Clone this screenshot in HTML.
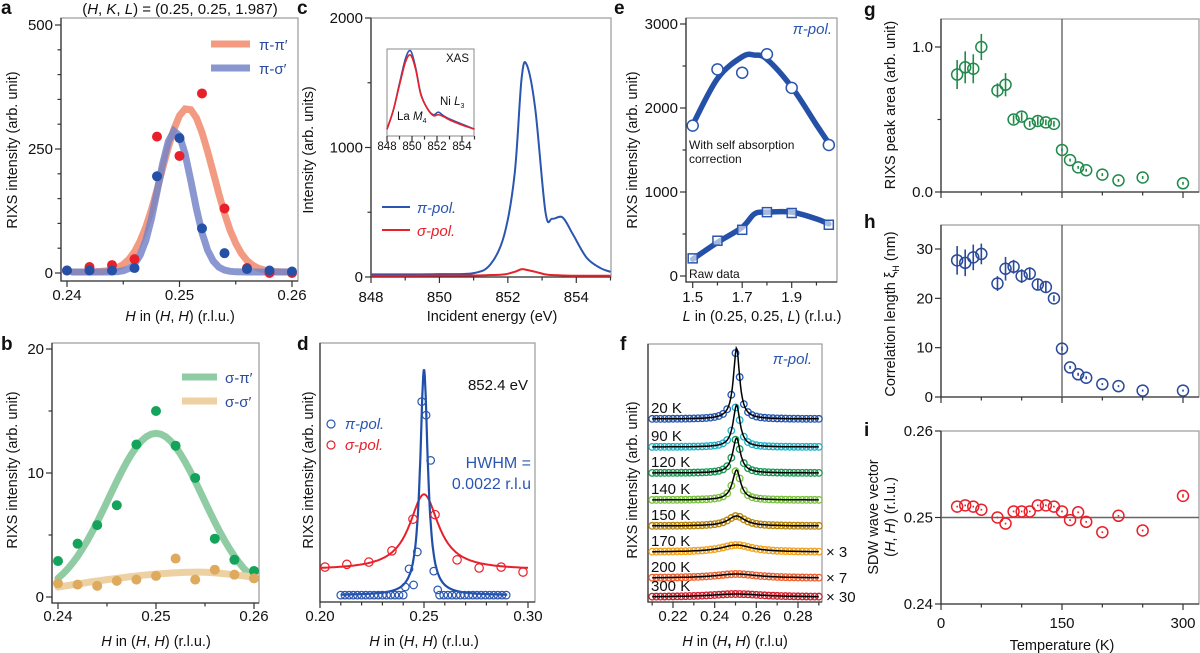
<!DOCTYPE html>
<html><head><meta charset="utf-8"><style>
body{margin:0;background:#fff}
svg{display:block;font-family:"Liberation Sans",sans-serif}
</style></head><body>
<svg id="fig" width="1200" height="653" viewBox="0 0 1200 653"></svg>
<script>
// ---------- data ----------
const aH=[0.240,0.242,0.244,0.246,0.248,0.250,0.252,0.254,0.256,0.258,0.260];
const aPiPi=[5,12,16,28,275,236,362,130,10,0,0];
const aPiSig=[5,5,5,10,195,272,90,40,8,5,3];
const aFitPiPi=[330,0.2507,0.0023];
const aFitPiSig=[285,0.2496,0.0015];
const bH=[0.240,0.242,0.244,0.246,0.248,0.250,0.252,0.254,0.256,0.258,0.260];
const bSigPi=[2.9,4.3,5.8,7.4,12.3,15,12.2,9.6,4.7,3,2.1];
const bSigSig=[1.1,1.0,0.9,1.3,1.4,1.7,3.1,1.4,2.2,1.8,1.5];
const bFitSigPi=[13.2,0.250,0.0048];
const bFitSigSigX=[0.240,0.245,0.250,0.255,0.260];
const bFitSigSigY=[0.8,1.4,1.85,2.0,1.6];
const cE=[848,849,850,851,851.5,851.9,852.2,852.4,852.55,852.8,853.1,853.3,853.6,853.9,854.3,854.7,855];
const cPi=[20,20,22,30,100,330,800,1530,1640,1300,500,450,460,330,150,70,40];
const cSig=[10,10,12,12,15,20,40,60,55,40,20,15,12,10,10,10,10];
const xasE=[848,848.5,849,849.5,849.9,850.3,850.7,851.2,851.7,852.1,852.5,853,854,855];
const xasPi=[0.08,0.3,0.62,0.92,1.0,0.8,0.5,0.33,0.25,0.28,0.24,0.2,0.14,0.08];
const xasSig=[0.08,0.3,0.6,0.88,0.95,0.78,0.49,0.33,0.24,0.25,0.23,0.19,0.13,0.08];
const dPiH=[0.2410,0.2428,0.2450,0.2468,0.2489,0.2510,0.2532,0.2547,0.2566];
const dPiI=[0.04,0.12,0.049,0.195,0.86,0.80,0.60,0.11,0.027];
const dSigH=[0.2024,0.2129,0.2235,0.2346,0.2447,0.2553,0.2659,0.2765,0.2871,0.2976];
const dSigI=[0.128,0.14,0.15,0.2,0.34,0.36,0.16,0.124,0.128,0.106];
const dFitPi=[1.0,0.250,0.0022,0.003];
const dFitSig=[0.335,0.250,0.0085,0.115];
const eL=[1.5,1.6,1.7,1.8,1.9,2.05];
const eCorr=[1790,2460,2420,2640,2240,1560];
const eRaw=[210,420,550,760,750,610];
const eFitL=[1.5,1.6,1.7,1.75,1.8,1.9,2.0,2.05];
const eFitCorr=[1800,2350,2610,2630,2580,2250,1800,1580];
const eFitRaw=[200,400,580,740,760,760,680,620];
const fTemps=['20 K','90 K','120 K','140 K','150 K','170 K','200 K','300 K'];
const fBase=[419,447,473,500,526,552,578,597];
const fHeight=[71,42,35,30,10,7,4,3];
const fHwhm=[0.0018,0.0020,0.0022,0.0024,0.005,0.009,0.012,0.015];
const fColors=['#2456b0','#1fb3c6','#1b9a55','#7cc242','#b8860b','#f2a41e','#ee6232','#d2202e'];
const fMult=['','','','','','× 3','× 7','× 30'];
const T=[20,30,40,50,70,80,90,100,110,120,130,140,150,160,170,180,200,220,250,300];
const gArea=[0.81,0.86,0.85,1.0,0.7,0.74,0.5,0.52,0.47,0.49,0.48,0.47,0.29,0.22,0.17,0.15,0.12,0.08,0.10,0.06];
const gErr=[0.1,0.11,0.1,0.09,0.05,0.08,0.03,0.03,0.02,0.03,0.02,0.02,0.01,0.01,0.01,0.01,0.01,0.01,0.01,0.01];
const hXi=[27.7,27.2,28.3,29,23,26,26.4,24.5,25,22.8,22.3,20,9.8,6,4.6,3.9,2.6,2.2,1.3,1.3];
const hErr=[2.9,2.7,2.6,2.1,1.5,2.4,1.4,1.4,1.3,1.2,1.1,0.6,0.4,0.3,0.3,0.3,0.2,0.2,0.2,0.2];
const iQ=[0.25126,0.2514,0.25126,0.2509,0.2500,0.2493,0.2507,0.2507,0.2507,0.2514,0.2514,0.25126,0.2507,0.2497,0.2506,0.2495,0.2483,0.2502,0.2485,0.2525];
const iErr=[0.0001,0.0001,0.0001,0.0001,0.0001,0.0001,0.0001,0.0001,0.0001,0.0001,0.0001,0.0001,0.0001,0.0001,0.0001,0.0001,0.0001,0.0001,0.0001,0.0002];

// ---------- helpers ----------
const NS='http://www.w3.org/2000/svg';
const svg=document.getElementById('fig');
function mk(tag,attrs,parent){const e=document.createElementNS(NS,tag);for(const k in attrs)e.setAttribute(k,attrs[k]);(parent||svg).appendChild(e);return e;}
function lin(d0,d1,r0,r1){return v=>r0+(v-d0)*(r1-r0)/(d1-d0);}
function txt(x,y,s,opt){const t=mk('text',Object.assign({x:x,y:y,'font-size':15,fill:'#111'},opt||{}));t.textContent=s;return t;}
function smooth(pts){let d='M'+pts[0][0]+','+pts[0][1];for(let i=0;i<pts.length-1;i++){const p0=pts[Math.max(0,i-1)],p1=pts[i],p2=pts[i+1],p3=pts[Math.min(pts.length-1,i+2)];d+=' C'+(p1[0]+(p2[0]-p0[0])/6)+','+(p1[1]+(p2[1]-p0[1])/6)+' '+(p2[0]-(p3[0]-p1[0])/6)+','+(p2[1]-(p3[1]-p1[1])/6)+' '+p2[0]+','+p2[1];}return d;}
function poly(pts){return 'M'+pts.map(p=>p[0].toFixed(1)+','+p[1].toFixed(1)).join(' L');}
function frame(x0,x1,y0,y1,name){
  const r=mk('rect',{x:x0,y:y0,width:x1-x0,height:y1-y0,fill:'none',stroke:'#999','stroke-width':1.2});
  
  
  const l=mk('path',{d:'M'+x0+','+y0+' L'+x0+','+y1+' L'+x1+','+y1,fill:'none',stroke:'#333','stroke-width':1.3});
  
  
}
function yTicks(x0,vals,sy,labels,name){
  vals.forEach((v,i)=>{const y=sy(v);const L=labels[i]!==''?6:3.5;
    const tk=mk('line',{x1:x0,x2:x0-L,y1:y,y2:y,stroke:'#333','stroke-width':1.2});
    
    
    if(labels[i]!==''){const t=txt(x0-8,y+5,labels[i],{'text-anchor':'end'});
      
      }
  });
}
function xTicks(y0,vals,sx,labels,name,ly){
  vals.forEach((v,i)=>{const x=sx(v);const L=labels[i]!==''?6:3.5;
    const tk=mk('line',{x1:x,x2:x,y1:y0,y2:y0+L,stroke:'#333','stroke-width':1.2});
    
    
    if(labels[i]!==''&&ly){const t=txt(x,ly,labels[i],{'text-anchor':'middle'});
      
      }
  });
}
function ytitle(x,y,s,name){const t=mk('text',{x:0,y:0,'font-size':14.5,fill:'#111','text-anchor':'middle',transform:'translate('+x+','+y+') rotate(-90)'});t.innerHTML=s;
  
  return t;}
function xtitle(x,y,s,name){const t=mk('text',{x:x,y:y,'font-size':14.5,fill:'#111','text-anchor':'middle'});t.innerHTML=s;
  
  return t;}
function letter(x,y,s){const t=txt(x,y,s,{'font-size':19,'font-weight':'bold'});
  
  }
function gauss(p,x){return p[0]*Math.exp(-Math.pow(x-p[1],2)/(2*p[2]*p[2]));}
function lor(p,x){return p[3]+p[0]*p[2]*p[2]/(Math.pow(x-p[1],2)+p[2]*p[2]);}
function range(a,b,s){const r=[];for(let v=a;v<=b+1e-9;v+=s)r.push(+v.toFixed(6));return r;}
const IT='font-style="italic"';

// ---------- panel a ----------
{const sx=lin(0.24,0.26,67,292),sy=lin(0,500,273,25);
frame(61,298,18,281,'panel-a');
yTicks(61,range(0,500,50),sy,range(0,500,50).map(v=>v%250===0?String(v):''),'panel-a');
xTicks(281,range(0.24,0.26,0.005),sx,['0.24','','0.25','','0.26'],'panel-a',300);
const xs=range(0.2405,0.26,0.0005);
const c1=mk('path',{d:poly(xs.map(x=>[sx(x),sy(gauss(aFitPiPi,x)+2)])),fill:'none',stroke:'#f08a6c','stroke-width':7,opacity:0.85,'stroke-linecap':'round'});


const c2=mk('path',{d:poly(xs.map(x=>[sx(x),sy(gauss(aFitPiSig,x)+2)])),fill:'none',stroke:'#7585c8','stroke-width':7,opacity:0.85,'stroke-linecap':'round'});


aH.forEach((h,i)=>{const p=mk('circle',{cx:sx(h),cy:sy(aPiPi[i]),r:5,fill:'#e8202a'});
  
  });
aH.forEach((h,i)=>{const p=mk('circle',{cx:sx(h),cy:sy(aPiSig[i]),r:5,fill:'#2550a8'});
  
  });
const l1=mk('line',{x1:211,x2:250,y1:44,y2:44,stroke:'#f08a6c','stroke-width':7,opacity:0.85});


const l2=mk('line',{x1:211,x2:250,y1:68,y2:68,stroke:'#7585c8','stroke-width':7,opacity:0.85});


const t1=txt(259,50,'π-π′',{fill:'#2a4a9a'});


const t2=txt(259,74,'π-σ′',{fill:'#2a4a9a'});


const tt=mk('text',{x:180,y:14,'font-size':15,fill:'#111','text-anchor':'middle'});tt.innerHTML='(<tspan font-style="italic">H</tspan>, <tspan font-style="italic">K</tspan>, <tspan font-style="italic">L</tspan>) = (0.25, 0.25, 1.987)';


ytitle(17,150,'RIXS intensity (arb. unit)','panel-a');
xtitle(180,321,'<tspan '+IT+'>H</tspan> in (<tspan '+IT+'>H</tspan>, <tspan '+IT+'>H</tspan>) (r.l.u.)','panel-a');
letter(1,14,'a');}

// ---------- panel b ----------
{const sx=lin(0.24,0.26,58,254),sy=lin(0,20,597,349);
frame(52,259,343,603,'panel-b');
yTicks(52,range(0,20,5),sy,['0','','10','','20'],'panel-b');
xTicks(603,range(0.24,0.26,0.005),sx,['0.24','','0.25','','0.26'],'panel-b',621);
const xs=range(0.2400,0.26,0.0005);
const c1=mk('path',{d:poly(xs.map(x=>[sx(x),sy(gauss(bFitSigPi,x))])),fill:'none',stroke:'#8fcca4','stroke-width':7,'stroke-linecap':'round'});


const c2=mk('path',{d:smooth(bFitSigSigX.map((x,i)=>[sx(x),sy(bFitSigSigY[i])])),fill:'none',stroke:'#eed1a2','stroke-width':7,'stroke-linecap':'round'});


bH.forEach((h,i)=>{const p=mk('circle',{cx:sx(h),cy:sy(bSigPi[i]),r:5,fill:'#13a35a'});
  
  });
bH.forEach((h,i)=>{const p=mk('circle',{cx:sx(h),cy:sy(bSigSig[i]),r:5,fill:'#deaa5e'});
  
  });
const l1=mk('line',{x1:182,x2:217,y1:377,y2:377,stroke:'#8fcca4','stroke-width':7});


const l2=mk('line',{x1:182,x2:217,y1:401,y2:401,stroke:'#eed1a2','stroke-width':7});


const t1=txt(225,383,'σ-π′',{fill:'#2a4a9a'});


const t2=txt(225,407,'σ-σ′',{fill:'#2a4a9a'});


ytitle(17,470,'RIXS intensity (arb. unit)','panel-b');
xtitle(156,646,'<tspan '+IT+'>H</tspan> in (<tspan '+IT+'>H</tspan>, <tspan '+IT+'>H</tspan>) (r.l.u.)','panel-b');
letter(1,350,'b');}

// ---------- panel c ----------
{const sx=lin(848,855,371,610.5),sy=lin(0,2000,277,18);
frame(371,611,18,277,'panel-c');
yTicks(371,range(0,2000,500),sy,['0','','1000','','2000'],'panel-c');
xTicks(277,range(848,855,1),sx,['848','','850','','852','','854',''],'panel-c',302);
const p1=mk('path',{d:smooth(cE.map((e,i)=>[sx(e),sy(cPi[i])])),fill:'none',stroke:'#2a56b0','stroke-width':2});


const p2=mk('path',{d:smooth(cE.map((e,i)=>[sx(e),sy(cSig[i])])),fill:'none',stroke:'#e8202a','stroke-width':2});


const l1=mk('line',{x1:382,x2:410,y1:207,y2:207,stroke:'#2a56b0','stroke-width':2});


const l2=mk('line',{x1:382,x2:410,y1:230,y2:230,stroke:'#e8202a','stroke-width':2});


const t1=txt(417,213,'π-pol.',{fill:'#2a56b0','font-style':'italic'});


const t2=txt(417,236,'σ-pol.',{fill:'#e8202a','font-style':'italic'});


const ix=lin(848,855,387,474.5),iy=lin(0,1,136,51);
const ir=mk('rect',{x:387,y:49,width:87,height:87,fill:'#fff',stroke:'#888','stroke-width':1});


xTicks(136,range(848,855,1),ix,['848','','850','','852','','854',''],'xas-inset',null);
[848,850,852,854].forEach(v=>{const t=txt(ix(v),150,String(v),{'text-anchor':'middle','font-size':11.5});
  
  });
const x1=mk('path',{d:smooth(xasE.map((e,i)=>[ix(e),iy(xasPi[i])])),fill:'none',stroke:'#2a56b0','stroke-width':1.6});


const x2=mk('path',{d:smooth(xasE.map((e,i)=>[ix(e),iy(xasSig[i])])),fill:'none',stroke:'#e8202a','stroke-width':1.6});


const a1=txt(446,62,'XAS',{'font-size':11.5});


const a2=mk('text',{x:440,y:105,'font-size':11.5,fill:'#111'});a2.innerHTML='Ni <tspan font-style="italic">L</tspan><tspan font-size="7" dy="3">3</tspan>';


const a3=mk('text',{x:397,y:120,'font-size':11.5,fill:'#111'});a3.innerHTML='La <tspan font-style="italic">M</tspan><tspan font-size="7" dy="3">4</tspan>';


ytitle(313,150,'Intensity (arb. units)','panel-c');
xtitle(492,321,'Incident energy (eV)','panel-c');
letter(297,14,'c');}

// ---------- panel d ----------
{const sx=lin(0.2,0.3,320,528),sy=lin(0,1,596,370);
frame(320,535,343,602,'panel-d');
xTicks(602,range(0.2,0.3,0.01),sx,['0.20','','','','','0.25','','','','','0.30'],'panel-d',621);
const xs=range(0.2,0.3,0.0004);
const c2=mk('path',{d:poly(xs.map(x=>[sx(x),sy(lor(dFitSig,x))])),fill:'none',stroke:'#e8202a','stroke-width':2});


const xb=range(0.21,0.29,0.0002);
const c1=mk('path',{d:poly(xb.map(x=>[sx(x),sy(lor(dFitPi,x))])),fill:'none',stroke:'#1f4fa8','stroke-width':2.2});


range(0.210,0.2405,0.002).concat(range(0.2575,0.29,0.002)).forEach(h=>{const p=mk('circle',{cx:sx(h),cy:sy(0.004),r:3.8,fill:'none',stroke:'#2a56b0','stroke-width':1.2});
  
  });
dPiH.forEach((h,i)=>{const p=mk('circle',{cx:sx(h),cy:sy(dPiI[i]),r:3.8,fill:'none',stroke:'#2a56b0','stroke-width':1.2});
  
  });
dSigH.forEach((h,i)=>{const p=mk('circle',{cx:sx(h),cy:sy(dSigI[i]),r:4.2,fill:'none',stroke:'#e8202a','stroke-width':1.2});
  
  });
const m1=mk('circle',{cx:331,cy:424,r:4,fill:'none',stroke:'#2a56b0','stroke-width':1.2});


const m2=mk('circle',{cx:331,cy:445,r:4,fill:'none',stroke:'#e8202a','stroke-width':1.2});


const t1=txt(345,429,'π-pol.',{fill:'#2a56b0','font-style':'italic'});


const t2=txt(345,450,'σ-pol.',{fill:'#e8202a','font-style':'italic'});


const e1=txt(528,390,'852.4 eV',{'text-anchor':'end'});


const e2=txt(531,468,'HWHM =',{'text-anchor':'end',fill:'#2a56b0','font-size':16});


const e3=txt(531,489,'0.0022 r.l.u',{'text-anchor':'end',fill:'#2a56b0','font-size':16});


ytitle(313,470,'RIXS intensity (arb. unit)','panel-d');
xtitle(424,646,'<tspan '+IT+'>H</tspan> in (<tspan '+IT+'>H</tspan>, <tspan '+IT+'>H</tspan>) (r.l.u.)','panel-d');
letter(297,350,'d');}

// ---------- panel e ----------
{const sx=lin(1.5,1.9,692.7,791.7),sy=lin(0,3000,276,24);
frame(686,837,18,282,'panel-e');
yTicks(686,range(0,3000,500),sy,['0','','1000','','2000','','3000'],'panel-e');
xTicks(282,range(1.5,2.0,0.1),sx,['1.5','','1.7','','1.9',''],'panel-e',302);
const c1=mk('path',{d:smooth(eFitL.map((l,i)=>[sx(l),sy(eFitCorr[i])])),fill:'none',stroke:'#2450a8','stroke-width':5.5,'stroke-linecap':'round'});


const c2=mk('path',{d:smooth(eFitL.map((l,i)=>[sx(l),sy(eFitRaw[i])])),fill:'none',stroke:'#2450a8','stroke-width':5.5,'stroke-linecap':'round'});


eL.forEach((l,i)=>{const p=mk('circle',{cx:sx(l),cy:sy(eCorr[i]),r:5.5,fill:'#fff',stroke:'#2a56b0','stroke-width':1.5});
  
  });
eL.forEach((l,i)=>{const p=mk('rect',{x:sx(l)-4.5,y:sy(eRaw[i])-4.5,width:9,height:9,fill:'#fff','fill-opacity':0.6,stroke:'#2a56b0','stroke-width':1.5});
  
  });
const t0=txt(832,34,'π-pol.',{fill:'#2a56b0','font-style':'italic','text-anchor':'end'});


const t1=txt(689,149,'With self absorption',{'font-size':12});


const t2=txt(689,163,'correction',{'font-size':12});


const t3=txt(689,278,'Raw data',{'font-size':12});


ytitle(637,150,'RIXS intensity (arb. unit)','panel-e');
xtitle(762,321,'<tspan '+IT+'>L</tspan> in (0.25, 0.25, <tspan '+IT+'>L</tspan>) (r.l.u.)','panel-e');
letter(614,14,'e');}

// ---------- panel f ----------
{const sx=lin(0.22,0.28,673,798);
frame(648,822,344,602,'panel-f');
xTicks(602,range(0.21,0.29,0.01),sx,['','0.22','','0.24','','0.26','','0.28',''],'panel-f',621);
const xs=range(0.21,0.29,0.0004), pts=range(0.21,0.29,0.002);
fTemps.forEach((tl,k)=>{
  const f=x=>fBase[k]-fHeight[k]*fHwhm[k]*fHwhm[k]/(Math.pow(x-0.2505,2)+fHwhm[k]*fHwhm[k]);
  pts.forEach(h=>{const p=mk('circle',{cx:sx(h),cy:f(h),r:3.3,fill:'none',stroke:fColors[k],'stroke-width':1.3});
    
    });
  const c=mk('path',{d:poly(xs.map(x=>[sx(x),f(x)])),fill:'none',stroke:'#000','stroke-width':1.5});
  
  
  const t=txt(651,fBase[k]-6,tl);
  
  
  if(fMult[k]){const m=txt(826,fBase[k]+5,fMult[k]);
    
    }
});
const t0=txt(812,364,'π-pol.',{fill:'#2a56b0','font-style':'italic','text-anchor':'end'});


ytitle(637,480,'RIXS intensity (arb. unit)','panel-f');
xtitle(735,646,'<tspan '+IT+'>H</tspan> in (<tspan '+IT+'>H</tspan><tspan font-weight="bold">,</tspan> <tspan '+IT+'>H</tspan>) (r.l.u)','panel-f');
letter(620,350,'f');}

// ---------- panels g h i ----------
{const sx=lin(0,300,941,1183);
function tp(y0,y1,sy,vals,errs,col,name,yt,yl,rule){
  frame(941,1199,y0,y1,name);
  yTicks(941,yt,sy,yl,name);
  xTicks(y1,range(0,300,50),sx,['0','','','150','','','300'],name,name==='panel-i'?628:null);
  if(rule==='v'){const l=mk('line',{x1:sx(150),x2:sx(150),y1:y0,y2:y1,stroke:'#666','stroke-width':1.4});
    
    }
  else{const l=mk('line',{x1:941,x2:1199,y1:sy(0.25),y2:sy(0.25),stroke:'#666','stroke-width':1.4});
    
    }
  T.forEach((t,i)=>{const x=sx(t),y=sy(vals[i]);
    const e=mk('line',{x1:x,x2:x,y1:sy(vals[i]+errs[i]),y2:sy(vals[i]-errs[i]),stroke:col,'stroke-width':1.6});
    
    
    const p=mk('circle',{cx:x,cy:y,r:5.5,fill:'none',stroke:col,'stroke-width':1.5});
    
    });
}
tp(19,192,lin(0,1,192,47),gArea,gErr,'#1f8a4a','panel-g',range(0,1.0,0.5),['0.0','','1.0'],'v');
tp(225,397,lin(0,30,397,249),hXi,hErr,'#2a4a9a','panel-h',range(0,30,10),['0','10','20','30'],'v');
tp(431,604,lin(0.24,0.26,604,431),iQ,iErr,'#e8202a','panel-i',[0.24,0.25,0.26],['0.24','0.25','0.26'],'h');
ytitle(895,105,'RIXS peak area (arb. unit)','panel-g');
ytitle(895,314,'Correlation length ξ<tspan font-size="9" dy="4">H</tspan><tspan dy="-4"> (nm)</tspan>','panel-h');
ytitle(878,517,'SDW wave vector','panel-i');
ytitle(895,517,'(<tspan '+IT+'>H</tspan>, <tspan '+IT+'>H</tspan>) (r.l.u.)','panel-i-2');
xtitle(1062,650,'Temperature (K)','panel-i');
letter(864,16,'g');letter(864,228,'h');letter(864,436,'i');}
</script>
</body></html>
